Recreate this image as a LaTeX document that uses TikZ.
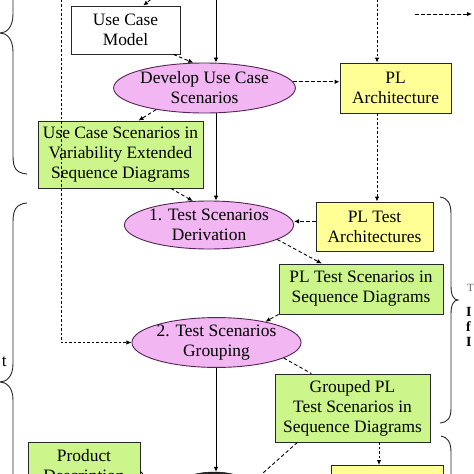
\documentclass[tikz,border=0pt]{standalone}
\usepackage{fontspec}
\setmainfont{Liberation Serif}
\usetikzlibrary{arrows.meta,backgrounds,shapes.geometric}
\definecolor{pinkfill}{RGB}{242,182,242}
\definecolor{pinkdraw}{RGB}{85,35,85}
\definecolor{greenfill}{RGB}{204,245,140}
\definecolor{yellowfill}{RGB}{255,255,150}
\definecolor{edge}{RGB}{40,40,40}
\tikzset{
  lbl/.style={font=\fontsize{17.4}{20}\selectfont, align=center, inner sep=0pt},
  boxw/.style={lbl, draw=edge, line width=0.9pt, fill=white},
  boxg/.style={lbl, draw=edge, line width=0.9pt, fill=greenfill},
  boxy/.style={lbl, draw=edge, line width=0.9pt, fill=yellowfill},
  ell/.style={lbl, ellipse, draw=pinkdraw, line width=0.9pt, fill=pinkfill},
  tipa/.style={-{Latex[length=5pt,width=4.5pt]}},
  sarr/.style={tipa, line width=0.8pt, draw=black},
  dsh/.style={line width=0.9pt, dash pattern=on 3.5pt off 2.5pt, draw=black},
  dot/.style={line width=0.9pt, dash pattern=on 2.5pt off 2pt, draw=black},
  brc/.style={line width=0.9pt, draw=black!85},
  side/.style={inner sep=0pt, anchor=west, font=\bfseries\fontsize{14}{15}\selectfont},
}
\begin{document}
\begin{tikzpicture}[x=1pt,y=-1pt]
\useasboundingbox (0,0) rectangle (474,474);
\clip (0,0) rectangle (474,474);
\fill[white] (0,0) rectangle (474,474);

% nodes
\node[boxw, minimum width=109pt, minimum height=48pt] (ucm) at (125.5,30) {Use Case\\Model};
\node[ell, minimum width=159pt, minimum height=50pt] (dev) at (204.5,88) {Develop Use Case\\Scenarios};
\node[boxg, minimum width=165pt, minimum height=67pt] (ucs) at (120.5,154.5) {Use Case Scenarios in\\Variability Extended\\Sequence Diagrams};
\node[ell, minimum width=154pt, minimum height=48pt] (ts1) at (209,225) {1. Test Scenarios\\Derivation};
\node[boxy, minimum width=111pt, minimum height=50pt] (pla) at (395.5,88) {PL\\Architecture};
\node[boxy, minimum width=117pt, minimum height=49pt] (plta) at (374.5,226.5) {PL Test\\Architectures};
\node[boxg, minimum width=164pt, minimum height=50pt] (plts) at (361,289) {PL Test Scenarios in\\Sequence Diagrams};
\node[ell, minimum width=139pt, minimum height=47pt] (ts2) at (216.5,342.5) {2. Test Scenarios\\Grouping};
\node[boxg, minimum width=155pt, minimum height=68pt] (gpl) at (352.5,408) {Grouped PL\\Test Scenarios in\\Sequence Diagrams};
\node[boxy, minimum width=112pt, minimum height=50pt, anchor=north] (yb) at (387,465) {};
\node[boxg, minimum width=112pt, minimum height=50pt, anchor=north] (prod) at (84,442) {Product\\Description};
\node[ellipse, fill=black!85, draw=black, minimum width=90pt, minimum height=46pt, inner sep=0pt] (blk) at (214,495) {};

% free coordinates
\coordinate (cin) at (160,-8);
\coordinate (ctop) at (216,-5);
\coordinate (cpl) at (377,-5);
\coordinate (cl) at (61,-5);
\coordinate (cx) at (379,0);
\coordinate (rs) at (415,14);
\coordinate (re) at (472,14);

% connectors
\draw[dsh, tipa] (cin) -- (ucm.54);
\draw[sarr] (ctop) -- (ctop |- dev.north);
\draw[dsh, tipa] (ucm.-27) -- (dev.114);
\draw[dsh, tipa] (dev.204) -- (ucs.62);
\draw[sarr] (dev.south -| ctop) -- (ts1.north -| ctop);
\draw[dsh, tipa] (ucs.-34) -- (ts1.124);
\draw[dsh, tipa] (dev.4) -- (dev.4 -| pla.west);
\draw[dot, tipa] (cpl) -- (cpl |- pla.north);
\draw[dsh, tipa] (rs) -- (re);
\draw[dot, tipa] (cpl |- pla.south) -- (cpl |- plta.north);
\draw[dsh, tipa] (plta.175) -- (plta.175 -| ts1.east);
\draw[dsh, tipa] (ts1.-12) -- (plts.147);
\begin{scope}[on background layer]
\draw[dot] (cx |- plta.south) -- (cx |- gpl.north);
\end{scope}
\draw[dsh, tipa] (plts.south west) -- (ts2.23);
\draw[dsh] (ts2.-13) -- (gpl.140);
\draw[sarr] (ts2.south -| ctop) -- (blk.north -| ctop);
\draw[dsh, tipa] (gpl.-148) -- (blk.18);
\draw[dot, tipa] (gpl.south -| cx) -- (yb.north -| cx);
\draw[dsh, tipa] (prod.-4) -- (blk.200);
\draw[dot, tipa] (cl) |- (ts2.west);

% braces
\draw[brc] (27,-108) .. controls (15,-106) and (13,-100) .. (13,-88) -- (13,14)
  .. controls (13,28) and (6,33) .. (0,33) .. controls (6,33) and (13,38) .. (13,52)
  -- (13,156) .. controls (13,168) and (16,173) .. (27,174);
\draw[brc] (27,203) .. controls (16,204) and (13,210) .. (13,222) -- (13,364)
  .. controls (13,377) and (6,382) .. (0,382) .. controls (6,382) and (13,387) .. (13,400)
  -- (13,560);
\draw[brc] (440,197) .. controls (448,198) and (451,204) .. (451,214) -- (451,286)
  .. controls (451,296) and (454,300) .. (458,300) .. controls (454,300) and (451,304) .. (451,314)
  -- (451,408) .. controls (451,418) and (448,422) .. (440,423);
\draw[brc] (441,436) .. controls (448,437) and (451,443) .. (451,452) -- (451,560);

% cut-off side texts
\node[lbl, anchor=east] (lt) at (7,362) {t};
\node[inner sep=0pt, anchor=west, font=\fontsize{11}{13}\selectfont, text=black!60] (rt) at (467,288) {T};
\node[side] (r1) at (466,312) {I};
\node[side] (r2) at (466,327) {f};
\node[side] (r3) at (466,342) {I};
\end{tikzpicture}
\end{document}
